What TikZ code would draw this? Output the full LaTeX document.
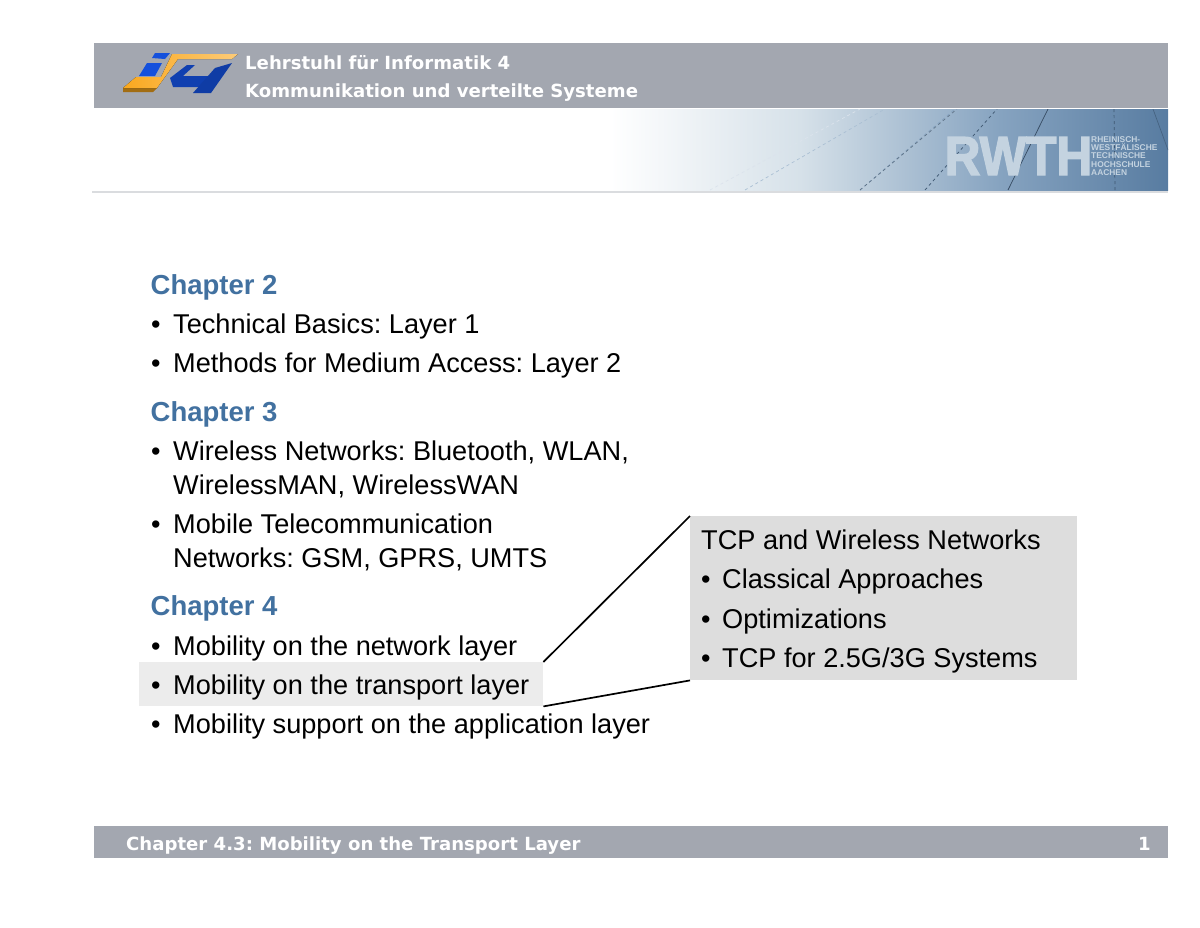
\documentclass[tikz,border=0pt]{standalone}
\usepackage{fontspec}
\setmainfont{Liberation Sans}
\newfontfamily\headfont{DejaVu Sans}
\newfontfamily\rwthfont[FakeBold=2.5]{Liberation Sans Bold}
\frenchspacing
\definecolor{bar}{RGB}{163,167,176}
\definecolor{chap}{RGB}{66,113,160}
\definecolor{hl}{RGB}{236,236,236}
\definecolor{boxg}{RGB}{221,221,221}
\definecolor{steel1}{RGB}{214,225,233}
\definecolor{steel2}{RGB}{134,163,192}
\definecolor{steel3}{RGB}{88,124,161}
\definecolor{pale}{RGB}{196,211,224}
\definecolor{oran}{RGB}{250,168,30}
\definecolor{blu}{RGB}{20,80,220}
\tikzset{
  barbox/.style={fill=bar,draw=none,inner sep=0pt,anchor=north west},
  headtext/.style={font=\headfont\fontsize{18.1}{20}\selectfont\bfseries,text=white,anchor=base west,inner sep=0pt},
  chaptext/.style={font=\fontsize{27.5}{30}\selectfont\bfseries,text=chap,anchor=base west,inner sep=0pt},
  bodytext/.style={font=\fontsize{27.15}{30}\selectfont,text=black,anchor=base west,inner sep=0pt},
  dot/.style={font=\fontsize{27}{30}\selectfont,text=black,anchor=base west,inner sep=0pt},
  crack/.style={draw=#1,line width=0.7pt},
  link/.style={draw=black,line width=1.7pt},
}
\begin{document}
\begin{tikzpicture}[x=1pt,y=-1pt]
\useasboundingbox (0,0) rectangle (1200,927);
% top bar
\node[barbox,minimum width=1074pt,minimum height=65pt] (topbar) at (94,43) {};
% logo
\fill[oran!65!black] (123,88) -- (157,88) -- (153,92) -- (123,92) -- cycle;
\fill[left color=oran,right color=oran!60!white] (123,88) -- (136,77) -- (161,77) -- (172,54) -- (238,54) -- (232,59) -- (178,59) -- (157,88) -- cycle;
\fill[blu] (152,58) -- (155,53) -- (170,53) -- (165,59) -- cycle;
\fill[blu] (139,76) -- (147,63) -- (162,63) -- (155,76) -- cycle;
\fill[blu!80!black] (170,78) -- (187,65) -- (195,65) -- (183,76) -- (213,76) -- (205,87) -- (173,87) -- cycle;
\fill[blu!75!black] (193,93) -- (215,68) -- (232,63) -- (211,93) -- cycle;
\node[headtext] (h1) at (245,69.5) {Lehrstuhl für Informatik 4};
\node[headtext] (h2) at (245,97.5) {Kommunikation und verteilte Systeme};
% banner
\fill[left color=white,right color=steel1] (610,109) rectangle (800.2,190);
\fill[left color=steel1,right color=steel2] (800,109) rectangle (1000.2,190);
\fill[left color=steel2,right color=steel3] (1000,109) rectangle (1168,190);
\fill[bar!40!white] (92,190.5) rectangle (1168,192.5);
\begin{scope}
\clip (610,109) rectangle (1168,190);
\draw[crack=white!70!steel2,dashed] (710,190) -- (860,109);
\draw[crack=steel2!70!white,dashed] (745,190) -- (885,109);
\draw[crack=steel2,dashed] (860,190) -- (955,109);
\draw[crack=steel2!70!black,dashed] (860,190) -- (957,109);
\draw[crack=steel3!70!black,dashed] (925,190) -- (997,109);
\draw[crack=steel3!60!black] (1008,190) -- (1048,109);
\draw[crack=steel3!70!black,dashed] (1115,190) -- (1114,109);
\draw[crack=steel3!80!black] (1153,109) -- (1168,150);
\end{scope}
\node[font=\rwthfont\fontsize{55}{55}\selectfont,text=pale,anchor=base west,inner sep=0pt,xscale=0.9] (rwth) at (944.5,175) {RWTH};
\node[font=\fontsize{8.4}{8.4}\selectfont\bfseries,text=pale,anchor=north west,inner sep=0pt,align=left] (rwthsub) at (1091,136) {RHEINISCH-\\WESTFÄLISCHE\\TECHNISCHE\\HOCHSCHULE\\AACHEN};
% highlight
\node[fill=hl,inner sep=0pt,minimum width=404pt,minimum height=44pt,anchor=north west] (hlbox) at (139,662) {};
\node[fill=boxg,inner sep=0pt,minimum width=387pt,minimum height=164pt,anchor=north west] (tcpbox) at (690,516) {};
\draw[link] (hlbox.north east) -- (tcpbox.north west);
\draw[link] (hlbox.south east) -- (tcpbox.south west);
% text
\node[chaptext] (c2) at (150.5,294) {Chapter 2};
\node[dot] (d1) at (151,333) {•}; \node[bodytext] (t1) at (173,333) {Technical Basics: Layer 1};
\node[dot] (d2) at (151,372) {•}; \node[bodytext] (t2) at (173,372) {Methods for Medium Access: Layer 2};
\node[chaptext] (c3) at (150.5,421) {Chapter 3};
\node[dot] (d3) at (151,460) {•}; \node[bodytext] (t3) at (173,460) {Wireless Networks: Bluetooth, WLAN,};
\node[bodytext] (t3b) at (173,494) {WirelessMAN, WirelessWAN};
\node[dot] (d4) at (151,533) {•}; \node[bodytext] (t4) at (173,533) {Mobile Telecommunication};
\node[bodytext] (t4b) at (173,567) {Networks: GSM, GPRS, UMTS};
\node[chaptext] (c4) at (150.5,615) {Chapter 4};
\node[dot] (d5) at (151,655) {•}; \node[bodytext] (t5) at (173,655) {Mobility on the network layer};
\node[dot] (d6) at (151,694) {•}; \node[bodytext] (t6) at (173,694) {Mobility on the transport layer};
\node[dot] (d7) at (151,733) {•}; \node[bodytext] (t7) at (173,733) {Mobility support on the application layer};
\node[bodytext] (r0) at (701,549) {TCP and Wireless Networks};
\node[dot] (rd1) at (701,588) {•}; \node[bodytext] (r1) at (722,588) {Classical Approaches};
\node[dot] (rd2) at (701,628) {•}; \node[bodytext] (r2) at (722,628) {Optimizations};
\node[dot] (rd3) at (701,667.5) {•}; \node[bodytext] (r3) at (722,667.5) {TCP for 2.5G/3G Systems};
% bottom bar
\node[barbox,minimum width=1074pt,minimum height=32pt] (botbar) at (94,826) {};
\node[headtext] (f1) at (126,850) {Chapter 4.3: Mobility on the Transport Layer};
\node[headtext] (f2) at (1138,850) {1};
\end{tikzpicture}
\end{document}
